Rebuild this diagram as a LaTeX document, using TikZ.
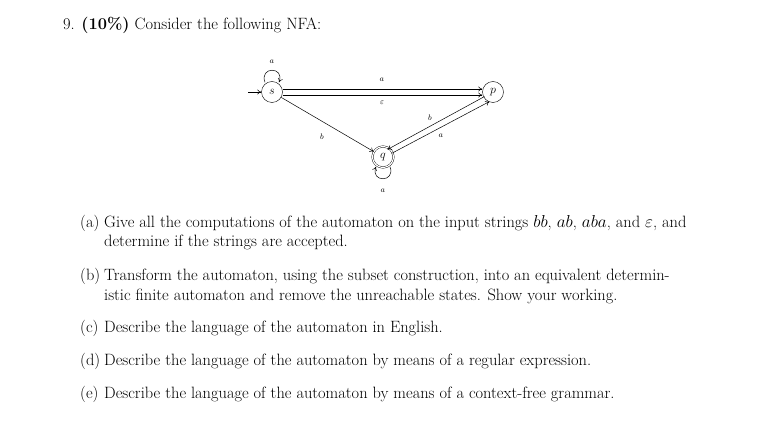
\documentclass[tikz,border=0pt]{standalone}
\usetikzlibrary{arrows.meta,calc}
\begin{document}
\begin{tikzpicture}[x=1pt,y=-1pt,
  txt/.style={anchor=base west,inner sep=0pt,font=\fontsize{16.4}{19}\selectfont},
  st/.style={circle,draw,minimum size=21pt,inner sep=0pt,font=\fontsize{12}{12}\selectfont},
  lab/.style={font=\fontsize{8.5}{8.5}\selectfont,inner sep=1pt},
  ar/.style={-{To[length=4pt,width=5pt]},line width=0.5pt}]
\useasboundingbox (0,0) rectangle (777,425);
\node[txt] (t0) at (63,30) {9. \textbf{(10\%)} Consider the following NFA:};
\node[st] (s) at (272,92) {$s$};
\node[st] (p) at (493,92) {$p$};
\node[st,double,double distance=1.2pt] (q) at (383,157) {$q$};
\coordinate (i) at (248,92);
\draw[ar] (i) -- (s);
\draw[ar] ($(s.north)+(-7,1)$) .. controls +(-6,-16) and +(6,-16) .. ($(s.north)+(7,1)$);
\node[lab] (la) at (272,62) {$a$};
\draw[ar] ([yshift=-3pt]s.east) -- ([yshift=-3pt]p.west);
\draw[ar] ([yshift=3pt]s.east) -- ([yshift=3pt]p.west);
\node[lab] (l1) at (382,80) {$a$};
\node[lab] (l2) at (382,103) {$\varepsilon$};
\draw[ar] (s) -- (q);
\node[lab] (l3) at (322,137) {$b$};
\draw[ar] ($(p.south west)+(-1,-3)$) -- ($(q.north east)+(-3,0)$);
\draw[ar] ($(q.north east)+(1,4)$) -- ($(p.south west)+(4,2)$);
\node[lab] (l4) at (430,118) {$b$};
\node[lab] (l5) at (441,136) {$a$};
\draw[ar] ($(q.south)+(7,-1)$) .. controls +(6,16) and +(-6,16) .. ($(q.south)+(-7,-1)$);
\node[lab] (lq) at (383,191) {$a$};
\node[txt] at (80,227) {(a)};
\node[txt] at (104,227) {Give all the computations of the automaton on the input strings $bb$, $ab$, $aba$, and $\varepsilon$, and};
\node[txt] at (104,247) {determine if the strings are accepted.};
\node[txt] at (80,280) {(b)};
\node[txt] at (104,280) {Transform the automaton, using the subset construction, into an equivalent determin-};
\node[txt] at (104,300) {istic finite automaton and remove the unreachable states. Show your working.};
\node[txt] at (80,332) {(c)};
\node[txt] at (104,332) {Describe the language of the automaton in English.};
\node[txt] at (80,365) {(d)};
\node[txt] at (104,365) {Describe the language of the automaton by means of a regular expression.};
\node[txt] at (80,398) {(e)};
\node[txt] at (104,398) {Describe the language of the automaton by means of a context-free grammar.};
\end{tikzpicture}
\end{document}
